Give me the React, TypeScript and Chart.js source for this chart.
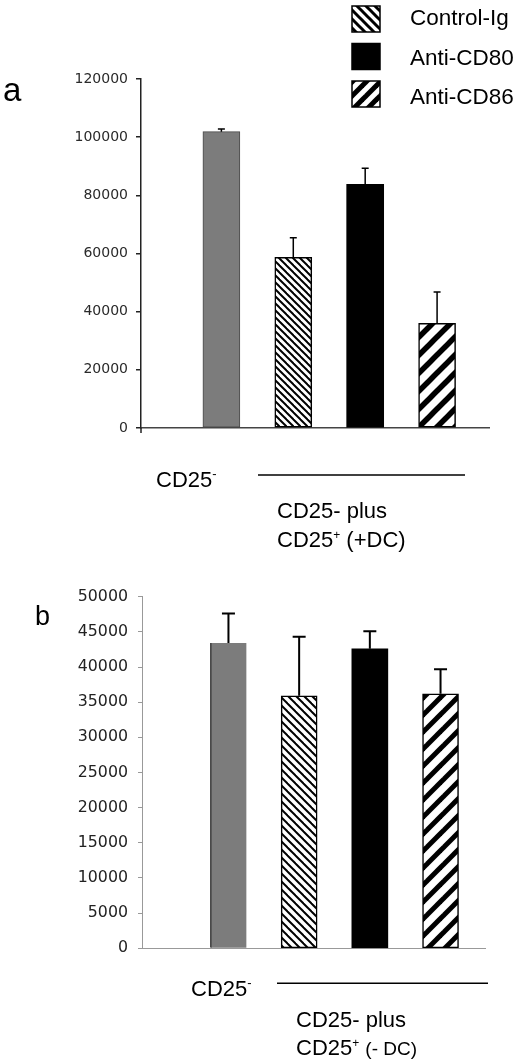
import React, { useEffect, useRef } from 'react';
import { Chart, registerables } from 'chart.js';

Chart.register(...registerables);

const categories = ['CD25-', 'Control-Ig', 'Anti-CD80', 'Anti-CD86'];
const legendLabels = ['Control-Ig', 'Anti-CD80', 'Anti-CD86'];

const valuesA = [101900, 58700, 83800, 36000];
const errorsA = [900, 6700, 5500, 10800];
const yTicksA = [0, 20000, 40000, 60000, 80000, 100000, 120000];

const valuesB = [43400, 35900, 42600, 36200];
const errorsB = [4200, 8400, 2500, 3500];
const yTicksB = [0, 5000, 10000, 15000, 20000, 25000, 30000, 35000, 40000, 45000, 50000];

const groupLabelA = ['CD25', 'CD25- plus', 'CD25', ' (+DC)'];
const groupLabelB = ['CD25', 'CD25- plus', 'CD25', '(- DC)'];

const SANS = '"Liberation Sans", Arial, sans-serif';
const TICKF = '"DejaVu Sans", sans-serif';
const GRAY = '#7c7c7c';

function hatch(ctx: CanvasRenderingContext2D, s: number, lw: number, dir: 'back' | 'fwd') {
  const c = document.createElement('canvas');
  c.width = s;
  c.height = s;
  const g = c.getContext('2d')!;
  g.fillStyle = '#fff';
  g.fillRect(0, 0, s, s);
  g.strokeStyle = '#000';
  g.lineWidth = lw;
  for (let k = -1; k <= 2; k++) {
    g.beginPath();
    if (dir === 'back') {
      g.moveTo(-s, -s + k * s);
      g.lineTo(2 * s, 2 * s + k * s);
    } else {
      g.moveTo(-s, s + k * s);
      g.lineTo(2 * s, -2 * s + k * s);
    }
    g.stroke();
  }
  return ctx.createPattern(c, 'repeat')!;
}

function rich(ctx: CanvasRenderingContext2D, x: number, y: number, parts: [string, number, number][]) {
  let cx = x;
  for (const [t, size, dy] of parts) {
    ctx.font = `${size}px ${SANS}`;
    ctx.fillText(t, cx, y + dy);
    cx += ctx.measureText(t).width;
  }
}

function errorPlugin(values: number[], errors: number[], lw: number, cap: number) {
  return {
    id: 'errbars',
    afterDatasetsDraw(chart: any) {
      const ctx = chart.ctx;
      const xs = chart.scales.x;
      const ys = chart.scales.y;
      ctx.save();
      ctx.strokeStyle = '#000';
      ctx.lineWidth = lw;
      values.forEach((v, i) => {
        const x = xs.getPixelForValue(i);
        const y0 = ys.getPixelForValue(v);
        const y1 = ys.getPixelForValue(v + errors[i]);
        ctx.beginPath();
        ctx.moveTo(x, y0);
        ctx.lineTo(x, y1);
        ctx.moveTo(x - cap, y1);
        ctx.lineTo(x + cap, y1);
        ctx.stroke();
      });
      ctx.restore();
    },
  };
}

function buildChart(
  canvas: HTMLCanvasElement,
  values: number[],
  errors: number[],
  ticks: number[],
  opt: {
    padTop: number;
    padRight: number;
    yWidth: number;
    xHeight: number;
    xmin: number;
    xmax: number;
    barT: number;
    tickSize: number;
    tickColor: string;
    axisColor: string;
    xAxisColor: string;
    axisWidth: number;
    tickLen: number;
    tickPad: number;
    errLw: number;
    errCap: number;
    ctrl: [number, number];
    cd86: [number, number];
    borderWidths: any[];
    borderColors: string[];
    annotate: (ctx: CanvasRenderingContext2D, chart: any) => void;
  }
) {
  const ctx = canvas.getContext('2d')!;
  const pCtrl = hatch(ctx, opt.ctrl[0], opt.ctrl[1], 'back');
  const pCd86 = hatch(ctx, opt.cd86[0], opt.cd86[1], 'fwd');
  return new Chart(ctx, {
    type: 'bar',
    data: {
      datasets: [
        {
          label: 'cpm',
          data: values.map((v, i) => ({ x: i, y: v })),
          backgroundColor: [GRAY, pCtrl, '#000', pCd86],
          borderColor: opt.borderColors,
          borderWidth: opt.borderWidths,
          borderSkipped: false,
          barThickness: opt.barT,
        } as any,
      ],
    },
    options: {
      responsive: false,
      animation: false,
      devicePixelRatio: 1,
      layout: { padding: { top: opt.padTop, right: opt.padRight, left: 0, bottom: 0 } },
      plugins: { legend: { display: false }, tooltip: { enabled: false } },
      scales: {
        x: {
          type: 'linear',
          min: opt.xmin,
          max: opt.xmax,
          offset: false,
          grid: { display: false },
          ticks: { display: false },
          border: { display: true, color: opt.xAxisColor, width: opt.axisWidth },
          afterFit: (s: any) => {
            s.height = opt.xHeight;
          },
        },
        y: {
          min: ticks[0],
          max: ticks[ticks.length - 1],
          ticks: {
            stepSize: ticks[1] - ticks[0],
            color: opt.tickColor,
            font: { family: TICKF, size: opt.tickSize },
            padding: opt.tickPad,
            callback: (v: any) => String(v),
          },
          grid: {
            drawOnChartArea: false,
            drawTicks: true,
            tickLength: opt.tickLen,
            color: opt.axisColor,
            lineWidth: opt.axisWidth,
          },
          border: { display: true, color: opt.axisColor, width: opt.axisWidth },
          afterFit: (s: any) => {
            s.width = opt.yWidth;
          },
        },
      },
    } as any,
    plugins: [
      errorPlugin(values, errors, opt.errLw, opt.errCap),
      {
        id: 'annot',
        afterDraw(chart: any) {
          const c = chart.ctx as CanvasRenderingContext2D;
          c.save();
          opt.annotate(c, chart);
          c.restore();
        },
      },
    ],
  });
}

export default function App() {
  const refA = useRef<HTMLCanvasElement>(null);
  const refB = useRef<HTMLCanvasElement>(null);

  useEffect(() => {
    const chartA = buildChart(refA.current!, valuesA, errorsA, yTicksA, {
      padTop: 79,
      padRight: 31,
      yWidth: 141,
      xHeight: 132,
      xmin: -1.118,
      xmax: 3.722,
      barT: 37,
      tickSize: 14,
      tickColor: '#2a2a2a',
      axisColor: '#222',
      xAxisColor: '#444',
      axisWidth: 1.5,
      tickLen: 5,
      tickPad: 8,
      errLw: 1.5,
      errCap: 3.5,
      ctrl: [7, 2],
      cd86: [18, 5.5],
      borderWidths: [1, 1.5, 0, 1.5],
      borderColors: ['#4a4a4a', '#000', '#000', '#000'],
      annotate: (c) => {
        c.fillStyle = '#000';
        c.textBaseline = 'alphabetic';
        c.textAlign = 'left';
        c.font = `33px ${SANS}`;
        c.fillText('a', 3, 100.5);
        // legend
        const lp = [hatch(c, 9, 3, 'back'), '#000', hatch(c, 14, 5, 'fwd')];
        const boxY = [6, 43.5, 81];
        const baseY = [25, 65, 104];
        legendLabels.forEach((lab, i) => {
          c.fillStyle = lp[i] as any;
          c.fillRect(352, boxY[i], 28, 26);
          c.strokeStyle = '#000';
          c.lineWidth = 1.5;
          c.strokeRect(352, boxY[i], 28, 26);
          c.fillStyle = '#000';
          c.font = `22.5px ${SANS}`;
          c.fillText(lab, 410, baseY[i]);
        });
        // y-axis stub below zero
        c.strokeStyle = '#222';
        c.lineWidth = 1.5;
        c.beginPath();
        c.moveTo(141, 428);
        c.lineTo(141, 433);
        c.stroke();
        // group labels
        c.fillStyle = '#000';
        rich(c, 156, 487, [[groupLabelA[0], 22, 0], ['-', 13, -9]]);
        c.strokeStyle = '#000';
        c.lineWidth = 1.5;
        c.beginPath();
        c.moveTo(258, 475);
        c.lineTo(465, 475);
        c.stroke();
        rich(c, 277, 518, [[groupLabelA[1], 22, 0]]);
        rich(c, 277, 547, [[groupLabelA[2], 22, 0], ['+', 12, -8], [groupLabelA[3], 22, 0]]);
      },
    });

    const chartB = buildChart(refB.current!, valuesB, errorsB, yTicksB, {
      padTop: 36.7,
      padRight: 35,
      yWidth: 142,
      xHeight: 113.7,
      xmin: -1.223,
      xmax: 3.629,
      barT: 36,
      tickSize: 15.8,
      tickColor: '#222',
      axisColor: '#999',
      xAxisColor: '#999',
      axisWidth: 1,
      tickLen: 4,
      tickPad: 10,
      errLw: 2,
      errCap: 6.5,
      ctrl: [8, 2],
      cd86: [17, 5],
      borderWidths: [{ left: 1.2, top: 0, right: 0, bottom: 0 }, 1.5, 0, 1.5],
      borderColors: ['#111', '#000', '#000', '#000'],
      annotate: (c) => {
        c.fillStyle = '#000';
        c.textBaseline = 'alphabetic';
        c.textAlign = 'left';
        c.font = `27px ${SANS}`;
        c.fillText('b', 35, 65);
        rich(c, 191, 436, [[groupLabelB[0], 22, 0], ['-', 13, -9]]);
        c.strokeStyle = '#000';
        c.lineWidth = 1.5;
        c.beginPath();
        c.moveTo(277, 423.3);
        c.lineTo(488, 423.3);
        c.stroke();
        rich(c, 296, 467.3, [[groupLabelB[1], 22, 0]]);
        rich(c, 296, 495, [[groupLabelB[2], 22, 0], ['+', 12, -8], [' ', 22, 0], [groupLabelB[3], 19, 0]]);
      },
    });

    return () => {
      chartA.destroy();
      chartB.destroy();
    };
  }, []);

  return (
    <div style={{ position: 'absolute', left: 0, top: 0, width: 520, height: 1062, background: '#fff' }}>
      <canvas
        ref={refA}
        width={520}
        height={560}
        style={{ position: 'absolute', left: 0, top: 0, width: 520, height: 560 }}
      />
      <canvas
        ref={refB}
        width={520}
        height={502}
        style={{ position: 'absolute', left: 0, top: 560, width: 520, height: 502 }}
      />
    </div>
  );
}
